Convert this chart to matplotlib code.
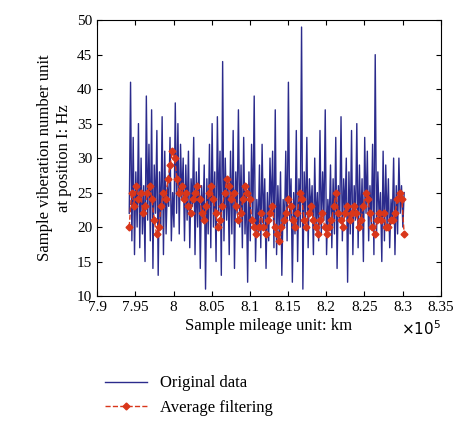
import numpy as np
import matplotlib
matplotlib.use("Agg")
import matplotlib.pyplot as plt

orig = [22,41,18,33,16,28,20,35,17,30,19,26,15,39,21,32,18,37,14,29,22,34,13,28,20,36,16,31,19,26,
        23,33,18,25,20,38,22,35,19,32,24,30,18,29,21,31,17,27,23,33,16,28,20,30,14,26,21,29,11,27,
        19,32,17,35,20,28,15,36,22,31,13,44,18,30,21,27,16,31,19,34,14,28,22,37,20,29,17,33,19,26,
        12,28,18,32,21,39,15,24,19,29,17,32,20,27,14,25,18,30,22,31,17,37,16,26,19,28,13,24,20,31,
        18,41,21,27,12,25,19,34,15,27,20,49,11,28,21,33,17,27,22,26,16,30,20,25,18,34,19,28,21,37,
        16,24,20,29,17,27,19,33,14,26,21,36,18,27,22,30,12,28,19,34,16,26,21,35,17,29,20,27,15,33,
        22,31,18,26,20,32,16,45,19,28,21,25,15,31,18,29,20,27,17,24,21,30,16,26,19,30,22,26,20,25]
filt = [20,25,23,26,24,25,22,23,25,26,24,21,19,20,23,25,24,27,29,31,30,27,25,26,24,25,23,22,24,25,
        26,24,22,21,23,25,26,24,22,20,21,23,25,27,26,24,25,23,21,22,24,26,25,24,21,20,19,20,22,20,
        19,21,22,23,20,19,18,20,21,22,24,23,21,20,22,25,24,21,20,22,23,21,20,19,21,22,20,19,20,21,
        23,25,22,21,20,22,23,21,22,23,22,20,21,23,25,24,22,20,19,21,22,21,22,20,20,21,21,22,24,25,24,19]

x_orig = np.linspace(7.942e5, 8.302e5, len(orig))
x_filt = np.linspace(7.942e5, 8.302e5, len(filt))

fig = plt.figure(figsize=(4.74, 4.29), dpi=100)
ax = fig.add_axes([0.205, 0.31, 0.725, 0.643])
l1, = ax.plot(x_orig, orig, color="#2b2b8c", lw=1.0, label="Original data")
l2, = ax.plot(x_filt, filt, color="#d9361a", lw=1.0, ls="--", marker="D", ms=3.5,
              label="Average filtering")
ax.set_xlim(7.9e5, 8.35e5)
ax.set_ylim(10, 50)
ax.set_xticks(np.arange(7.9e5, 8.351e5, 0.05e5))
ax.set_xticklabels(["7.9","7.95","8","8.05","8.1","8.15","8.2","8.25","8.3","8.35"])
ax.set_yticks(range(10, 51, 5))
ax.tick_params(direction="in", top=True, right=True, labelsize=11)
for lab in ax.get_xticklabels() + ax.get_yticklabels():
    lab.set_fontfamily("Liberation Serif")
ax.set_xlabel("Sample mileage unit: km", family="Liberation Serif", fontsize=12, labelpad=3)
ax.set_ylabel("Sample viberation number unit\nat position I: Hz", family="Liberation Serif", fontsize=12)
ax.text(1.0, -0.12, r"$\times10^5$", transform=ax.transAxes, ha="right", va="center", fontsize=11)
fig.legend(handles=[l1, l2], loc="upper left", bbox_to_anchor=(0.19, 0.16), frameon=False,
           prop={"family": "Liberation Serif", "size": 12}, handlelength=2.5)
fig.savefig("out.png", dpi=100)
